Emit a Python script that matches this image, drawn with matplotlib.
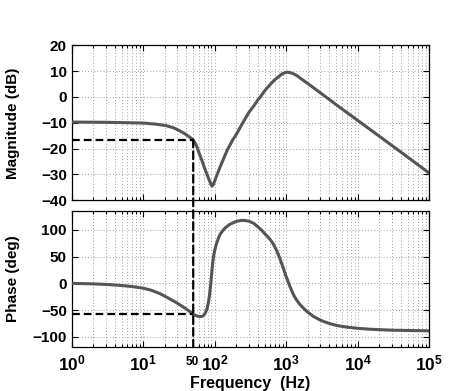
import matplotlib
matplotlib.use("Agg")
import matplotlib.pyplot as plt
from matplotlib.patches import ConnectionPatch
from matplotlib.ticker import LogLocator, NullFormatter, FixedLocator

plt.rcParams['font.family'] = ['Liberation Sans', 'DejaVu Sans']
plt.rcParams['font.weight'] = 'bold'
plt.rcParams['mathtext.fontset'] = 'custom'
plt.rcParams['mathtext.rm'] = 'Liberation Sans:bold'
plt.rcParams['mathtext.bf'] = 'Liberation Sans:bold'
plt.rcParams['mathtext.it'] = 'Liberation Sans:bold'

# ---- data ----
mag_freq = [1, 3, 10, 15, 21, 27, 33, 38, 45, 50, 55, 60, 66, 72, 78, 84, 89,
            92, 95, 100, 108, 118, 130, 150, 175, 200, 230, 265, 300, 350, 400,
            454, 520, 600, 680, 776, 870, 950, 1020, 1100, 1200, 1300, 1400,
            1700, 2000, 3000, 5000, 10000, 20000, 50000, 100000]
mag_db = [-9.7, -9.8, -10.1, -10.5, -11.1, -12.0, -13.2, -14.2, -15.6, -16.7,
          -18.5, -21.5, -24.5, -27.5, -30.0, -32.3, -34.0,
          -34.5, -34.0, -32.5, -30.0, -27.3, -24.5, -20.5, -17.0, -14.5, -11.5,
          -8.5, -6.0, -3.5, -1.2, 0.8, 3.0, 4.9, 6.5, 7.8, 8.9, 9.4, 9.6, 9.5,
          9.2, 8.8, 8.3, 6.6, 5.2, 1.6, -3.0, -9.1, -15.2, -23.3, -29.5]

ph_freq = [1, 2, 3, 5, 7, 10, 13, 17, 22, 29, 35, 40, 45, 50, 56, 62, 66, 70,
           74, 78, 81, 84, 86, 88, 90, 92, 94, 96, 100, 105, 112, 119, 130,
           140, 164, 200, 230, 260, 300, 350, 400, 450, 500, 550, 600, 650,
           700, 750, 800, 850, 900, 950, 1000, 1070, 1130, 1200, 1300, 1400,
           1500, 1600, 1800, 2000, 2400, 3000, 3500, 4200, 5080, 7000, 10000,
           15000, 30000, 100000]
ph_deg = [0, -1, -2, -4, -6, -9, -13, -19, -27, -36, -43, -48, -53, -58, -61,
          -62.3, -62, -60, -55, -48, -38, -25, -13, 0, 14, 28, 40, 50, 62, 73,
          84, 92, 99, 104, 111, 116, 117.8, 118, 116.5, 112.5, 106, 100, 93,
          87.5, 81.5, 75, 67, 58.5, 49, 39.5, 30, 21, 12, 2, -6.5, -15, -24.5,
          -31.5, -37, -41.5, -48.5, -54, -62, -69, -72.5, -76, -79, -82, -84.3,
          -86, -87.8, -89]

marker_freq = 50
marker_mag = -16.5
marker_phase = -58

mag_yticks = [-40, -30, -20, -10, 0, 10, 20]
ph_yticks = [-100, -50, 0, 50, 100]
x_ticks = [1, 10, 100, 1000, 10000, 100000]
x_ticklabels = [r'$10^{%d}$' % i for i in range(6)]

fig = plt.figure(figsize=(4.74, 3.91), dpi=100)
ax1 = fig.add_axes([0.1513, 0.4877, 0.7544, 0.3964])
ax2 = fig.add_axes([0.1513, 0.1125, 0.7544, 0.3491])

curve_color = '#555555'
grid_kw = dict(color='0.62', linewidth=0.7, linestyle=(0, (1, 2.2)))

for ax in (ax1, ax2):
    ax.set_xscale('log')
    ax.set_xlim(1, 1e5)
    ax.xaxis.set_major_locator(FixedLocator(x_ticks))
    ax.xaxis.set_minor_locator(LogLocator(base=10, subs=range(2, 10), numticks=20))
    ax.xaxis.set_minor_formatter(NullFormatter())
    ax.tick_params(which='both', direction='in', top=True, right=True,
                   labelsize=11, width=0.8)
    ax.tick_params(which='major', length=4)
    ax.tick_params(which='minor', length=2)
    ax.grid(True, which='major', axis='both', **grid_kw)
    ax.grid(True, which='minor', axis='x', **grid_kw)
    ax.set_axisbelow(True)
    for s in ax.spines.values():
        s.set_linewidth(0.9)

# magnitude
ax1.plot(mag_freq, mag_db, color=curve_color, linewidth=2.2,
         solid_capstyle='round', solid_joinstyle='round', zorder=3)
ax1.set_ylim(-40, 20)
ax1.set_yticks(mag_yticks)
ax1.set_xticklabels([])
ax1.set_ylabel('Magnitude (dB)', fontsize=11, fontweight='bold')
ax1.yaxis.set_label_coords(-0.145, 0.5)
ax1.plot([1, marker_freq], [marker_mag, marker_mag], color='black', linewidth=1.6,
         linestyle=(0, (3.5, 1.8)), zorder=4)

# phase
ax2.plot(ph_freq, ph_deg, color=curve_color, linewidth=2.2,
         solid_capstyle='round', solid_joinstyle='round', zorder=3)
ax2.set_ylim(-119.3, 136.5)
ax2.set_yticks(ph_yticks)
ax2.set_xticklabels(x_ticklabels)
ax2.tick_params(axis='x', which='major', labelsize=12.5, pad=5)
ax2.set_ylabel('Phase (deg)', fontsize=11, fontweight='bold')
ax2.yaxis.set_label_coords(-0.145, 0.5)
ax2.set_xlabel('Frequency  (Hz)', fontsize=11.5, fontweight='bold', labelpad=1.5)
ax2.plot([1, marker_freq], [marker_phase, marker_phase], color='black', linewidth=1.6,
         linestyle=(0, (3.5, 1.8)), zorder=4)

con = ConnectionPatch(xyA=(marker_freq, marker_mag), coordsA=ax1.transData,
                      xyB=(marker_freq, -119.3), coordsB=ax2.transData,
                      color='black', linewidth=1.6, linestyle=(0, (3.5, 1.8)), zorder=5)
fig.add_artist(con)

ax2.annotate(str(marker_freq), xy=(marker_freq, 0), xycoords=('data', 'axes fraction'),
             xytext=(-1, -6.5), textcoords='offset points', ha='center', va='top',
             fontsize=8.5, fontweight='bold')

fig.savefig('out.png', dpi=100)
